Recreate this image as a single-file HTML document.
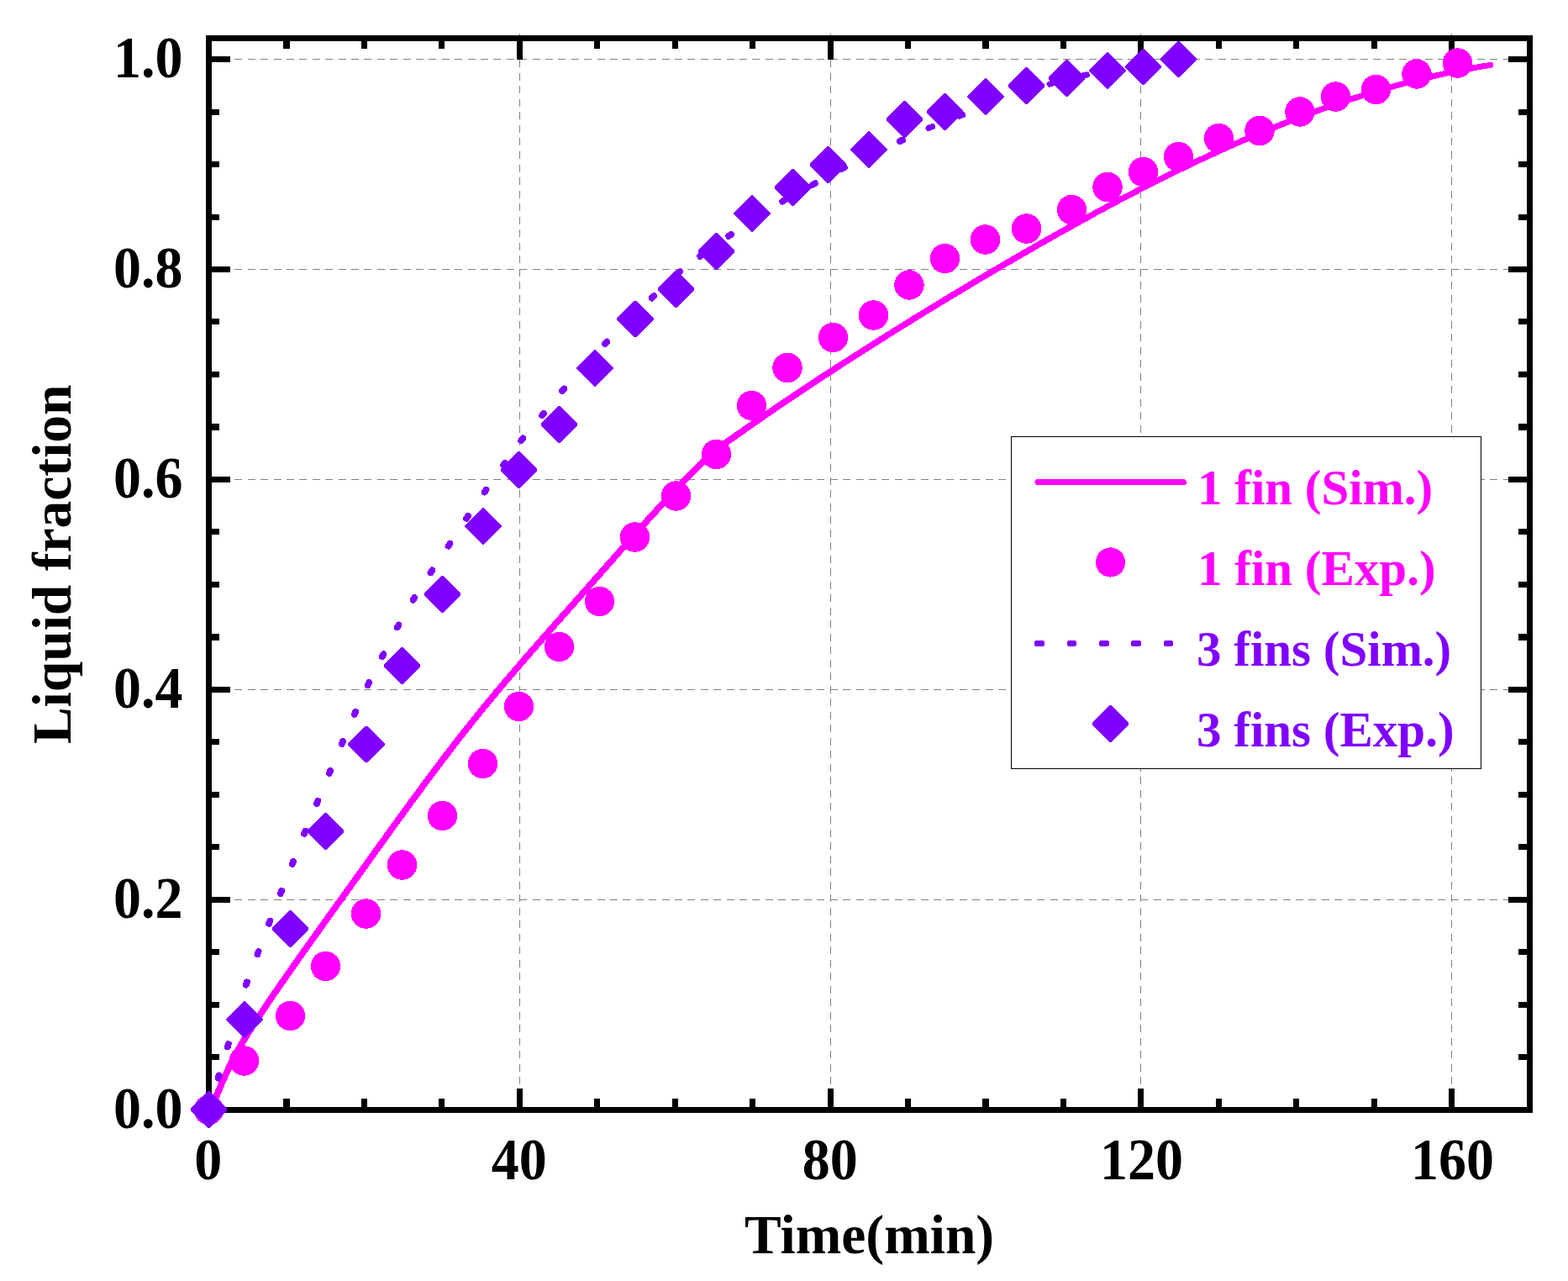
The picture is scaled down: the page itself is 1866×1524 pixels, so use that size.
<!DOCTYPE html>
<html lang="en"><head><meta charset="utf-8"><title>Liquid fraction vs. time</title>
<style>html,body{margin:0;padding:0;background:#fff;}body{width:1866px;height:1524px;overflow:hidden;}svg{display:block;}text{font-family:"Liberation Serif",serif;font-weight:bold;}</style></head><body>
<svg width="1866" height="1524" viewBox="0 0 1866 1524" role="img" aria-label="Liquid fraction versus time for 1 fin and 3 fins, simulation and experiment">
<rect x="0" y="0" width="1866" height="1524" fill="#ffffff"/>
<g id="grid" stroke="#808080" stroke-width="1" fill="none" stroke-dasharray="9 6.4" shape-rendering="crispEdges">
<line x1="248.5" y1="1070.5" x2="1817" y2="1070.5"/>
<line x1="248.5" y1="820.5" x2="1817" y2="820.5"/>
<line x1="248.5" y1="570.5" x2="1817" y2="570.5"/>
<line x1="248.5" y1="320.5" x2="1817" y2="320.5"/>
<line x1="248.5" y1="70.5" x2="1817" y2="70.5"/>
<line x1="618.5" y1="40.4" x2="618.5" y2="1320" stroke-dasharray="9 6.51"/>
<line x1="988.5" y1="40.4" x2="988.5" y2="1320" stroke-dasharray="9 6.51"/>
<line x1="1357.5" y1="40.4" x2="1357.5" y2="1320" stroke-dasharray="9 6.51"/>
<line x1="1727.5" y1="40.4" x2="1727.5" y2="1320" stroke-dasharray="9 6.51"/>
</g>
<g id="axes" fill="#000" shape-rendering="crispEdges">
<rect x="245" y="42" width="1579" height="7"/>
<rect x="245" y="1317" width="1579" height="7"/>
<rect x="245" y="42" width="7" height="1282"/>
<rect x="1817" y="42" width="7" height="1282"/>
<rect x="337" y="49" width="8" height="9"/>
<rect x="337" y="1307" width="8" height="10"/>
<rect x="430" y="49" width="7" height="9"/>
<rect x="430" y="1307" width="7" height="10"/>
<rect x="522" y="49" width="7" height="9"/>
<rect x="522" y="1307" width="7" height="10"/>
<rect x="615" y="49" width="7" height="22"/>
<rect x="615" y="1295" width="7" height="22"/>
<rect x="707" y="49" width="7" height="9"/>
<rect x="707" y="1307" width="7" height="10"/>
<rect x="800" y="49" width="7" height="9"/>
<rect x="800" y="1307" width="7" height="10"/>
<rect x="892" y="49" width="7" height="9"/>
<rect x="892" y="1307" width="7" height="10"/>
<rect x="985" y="49" width="7" height="22"/>
<rect x="985" y="1295" width="7" height="22"/>
<rect x="1077" y="49" width="7" height="9"/>
<rect x="1077" y="1307" width="7" height="10"/>
<rect x="1169" y="49" width="8" height="9"/>
<rect x="1169" y="1307" width="8" height="10"/>
<rect x="1262" y="49" width="7" height="9"/>
<rect x="1262" y="1307" width="7" height="10"/>
<rect x="1354" y="49" width="7" height="22"/>
<rect x="1354" y="1295" width="7" height="22"/>
<rect x="1447" y="49" width="7" height="9"/>
<rect x="1447" y="1307" width="7" height="10"/>
<rect x="1539" y="49" width="7" height="9"/>
<rect x="1539" y="1307" width="7" height="10"/>
<rect x="1632" y="49" width="7" height="9"/>
<rect x="1632" y="1307" width="7" height="10"/>
<rect x="1724" y="49" width="7" height="22"/>
<rect x="1724" y="1295" width="7" height="22"/>
<rect x="252" y="1254" width="9" height="7"/>
<rect x="1807" y="1254" width="10" height="7"/>
<rect x="252" y="1192" width="9" height="7"/>
<rect x="1807" y="1192" width="10" height="7"/>
<rect x="252" y="1129" width="9" height="7"/>
<rect x="1807" y="1129" width="10" height="7"/>
<rect x="252" y="1067" width="22" height="7"/>
<rect x="1795" y="1067" width="22" height="7"/>
<rect x="252" y="1004" width="9" height="7"/>
<rect x="1807" y="1004" width="10" height="7"/>
<rect x="252" y="942" width="9" height="7"/>
<rect x="1807" y="942" width="10" height="7"/>
<rect x="252" y="879" width="9" height="7"/>
<rect x="1807" y="879" width="10" height="7"/>
<rect x="252" y="817" width="22" height="7"/>
<rect x="1795" y="817" width="22" height="7"/>
<rect x="252" y="754" width="9" height="8"/>
<rect x="1807" y="754" width="10" height="8"/>
<rect x="252" y="692" width="9" height="7"/>
<rect x="1807" y="692" width="10" height="7"/>
<rect x="252" y="629" width="9" height="7"/>
<rect x="1807" y="629" width="10" height="7"/>
<rect x="252" y="567" width="22" height="7"/>
<rect x="1795" y="567" width="22" height="7"/>
<rect x="252" y="504" width="9" height="8"/>
<rect x="1807" y="504" width="10" height="8"/>
<rect x="252" y="442" width="9" height="7"/>
<rect x="1807" y="442" width="10" height="7"/>
<rect x="252" y="379" width="9" height="7"/>
<rect x="1807" y="379" width="10" height="7"/>
<rect x="252" y="317" width="22" height="7"/>
<rect x="1795" y="317" width="22" height="7"/>
<rect x="252" y="255" width="9" height="7"/>
<rect x="1807" y="255" width="10" height="7"/>
<rect x="252" y="192" width="9" height="7"/>
<rect x="1807" y="192" width="10" height="7"/>
<rect x="252" y="130" width="9" height="7"/>
<rect x="1807" y="130" width="10" height="7"/>
<rect x="252" y="67" width="22" height="7"/>
<rect x="1795" y="67" width="22" height="7"/>
</g>
<g id="sim1" fill="none" stroke="#ff00ff" stroke-linecap="round" stroke-linejoin="round" shape-rendering="crispEdges">
<polyline stroke-width="7.8" points="251.3,1320.51 253.57,1314.45 255.85,1308.56 258.12,1302.83 260.4,1297.26 262.67,1291.85 264.95,1286.59 267.22,1281.49 269.49,1276.53 271.77,1271.72 274.04,1267.06 276.32,1262.53 278.59,1258.15 280.87,1253.89 283.14,1249.74 285.42,1245.71 287.69,1241.77 289.96,1237.91 292.24,1234.14 294.51,1230.43 296.79,1226.78 299.06,1223.18 301.34,1219.62 303.61,1216.09 305.88,1212.59 308.16,1209.12 310.43,1205.67 312.71,1202.26 314.98,1198.86 317.26,1195.49 319.53,1192.13 321.81,1188.79 324.08,1185.47 326.35,1182.16 328.63,1178.86 330.9,1175.57 333.18,1172.29 335.45,1169.01 337.73,1165.74 340,1162.48 345,1155.33 353.6,1143.09 362.2,1130.94 370.81,1118.84 379.41,1106.8 388.01,1094.79 396.61,1082.82 405.21,1070.85 413.81,1058.9 422.42,1046.93 431.02,1034.95 439.62,1022.97 448.22,1010.99 456.82,999.04 465.42,987.12 474.03,975.23 482.63,963.4 491.23,951.63 499.83,939.94 508.43,928.33 517.03,916.82 525.64,905.41 534.24,894.13 542.84,882.97 551.44,871.95 560.04,861.09 568.64,850.38 577.25,839.82 585.85,829.41 594.45,819.12 603.05,808.94 611.65,798.86 620.25,788.88 628.86,778.98 637.46,769.14 646.06,759.35 654.66,749.61 663.26,739.91 671.86,730.21 680.47,720.53 689.07,710.84 697.67,701.14 706.27,691.41 714.87,681.65 723.47,671.89 732.08,662.14 740.68,652.4 749.28,642.7 757.88,633.05 766.48,623.47 775.08,613.96 783.69,604.56 792.29,595.26 800.89,586.09 809.49,577.08 818.09,568.24 826.69,559.56 835.3,551.07 843.9,542.76 852.5,534.65 862.85,527.39 873.2,520.14 883.55,512.88 893.9,505.63 904.25,498.42 914.6,491.25 924.95,484.14 935.3,477.11 945.64,470.15 955.99,463.26 966.34,456.43 976.69,449.64 987.04,442.9 997.39,436.2"/>
<polyline stroke-width="7.5" points="997.39,436.2 1007.74,429.53 1018.09,422.9 1028.44,416.3 1038.79,409.74 1049.14,403.21 1059.49,396.71 1069.84,390.24 1080.19,383.82 1090.54,377.42 1100.89,371.06 1111.24,364.73 1121.59,358.43 1131.93,352.17 1142.28,345.94 1152.63,339.74 1162.98,333.58 1173.33,327.45 1183.68,321.35 1194.03,315.29 1204.38,309.26 1214.73,303.26 1225.08,297.3 1235.43,291.38 1245.78,285.49 1256.13,279.65 1266.48,273.85 1276.83,268.09 1287.18,262.38 1297.53,256.72"/>
<polyline stroke-width="7.2" points="1297.53,256.72 1307.88,251.1 1318.22,245.54 1328.57,240.04 1338.92,234.59 1349.27,229.19 1359.62,223.86 1369.97,218.58 1380.32,213.37 1390.67,208.23 1401.02,203.15 1411.37,198.13 1421.72,193.19 1432.07,188.32 1442.42,183.52 1452.77,178.8 1463.12,174.15 1473.47,169.58 1483.82,165.09 1494.17,160.68 1504.51,156.35 1514.86,152.11 1525.21,147.95 1535.56,143.87 1545.91,139.89"/>
<polyline stroke-width="7" points="1545.91,139.89 1556.26,136 1566.61,132.19 1576.96,128.48 1587.31,124.87 1597.66,121.35 1608.01,117.93 1618.36,114.61 1628.71,111.38 1639.06,108.26 1649.41,105.24 1659.76,102.33 1670.11,99.52 1680.46,96.81 1690.8,94.21 1701.15,91.72 1711.5,89.34 1721.85,87.06 1732.2,84.9 1742.55,82.85 1752.9,80.92 1763.25,79.1 1773.6,77.39"/>
</g>
<g id="exp1" fill="#ff00ff" shape-rendering="crispEdges">
<circle cx="248.5" cy="1320.5" r="17.75"/>
<circle cx="290.5" cy="1262" r="17.75"/>
<circle cx="345.5" cy="1208.5" r="17.75"/>
<circle cx="387.5" cy="1149.5" r="17.75"/>
<circle cx="435.5" cy="1087" r="17.75"/>
<circle cx="478.5" cy="1029" r="17.75"/>
<circle cx="526.5" cy="970.5" r="17.75"/>
<circle cx="574.5" cy="908.5" r="17.75"/>
<circle cx="617.5" cy="840.5" r="17.75"/>
<circle cx="665.5" cy="769.5" r="17.75"/>
<circle cx="713.5" cy="715.5" r="17.75"/>
<circle cx="755.5" cy="639" r="17.75"/>
<circle cx="804.5" cy="590" r="17.75"/>
<circle cx="852.5" cy="540.5" r="17.75"/>
<circle cx="894.5" cy="482.5" r="17.75"/>
<circle cx="937" cy="437.5" r="17.75"/>
<circle cx="991.5" cy="401.5" r="17.75"/>
<circle cx="1039.5" cy="375" r="17.75"/>
<circle cx="1082" cy="339" r="17.75"/>
<circle cx="1124.5" cy="307.5" r="17.75"/>
<circle cx="1172.5" cy="285" r="17.75"/>
<circle cx="1221.5" cy="272" r="17.75"/>
<circle cx="1275.5" cy="249.5" r="17.75"/>
<circle cx="1318" cy="222.5" r="17.75"/>
<circle cx="1360.5" cy="204.5" r="17.75"/>
<circle cx="1402.5" cy="186.5" r="17.75"/>
<circle cx="1450.5" cy="164.5" r="17.75"/>
<circle cx="1499" cy="155.5" r="17.75"/>
<circle cx="1547" cy="133" r="17.75"/>
<circle cx="1589.5" cy="115" r="17.75"/>
<circle cx="1637.5" cy="106.5" r="17.75"/>
<circle cx="1686" cy="88" r="17.75"/>
<circle cx="1734.5" cy="75" r="17.75"/>
</g>
<g id="sim3" fill="#8000ff" shape-rendering="crispEdges">
<rect x="-5.6" y="-3.9" width="11.2" height="7.8" rx="3.8" ry="3.8" transform="translate(260.1,1281.1) rotate(-73.33)"/>
<rect x="-5.6" y="-3.9" width="11.2" height="7.8" rx="3.8" ry="3.8" transform="translate(271.3,1243.7) rotate(-73.36)"/>
<rect x="-5.6" y="-3.9" width="11.2" height="7.8" rx="3.8" ry="3.8" transform="translate(293.3,1170) rotate(-72.02)"/>
<rect x="-5.6" y="-3.9" width="11.2" height="7.8" rx="3.8" ry="3.8" transform="translate(307,1133.7) rotate(-69.35)"/>
<rect x="-5.6" y="-3.9" width="11.2" height="7.8" rx="3.8" ry="3.8" transform="translate(320.7,1097.3) rotate(-69.2)"/>
<rect x="-5.6" y="-3.9" width="11.2" height="7.8" rx="3.8" ry="3.8" transform="translate(334.5,1061.3) rotate(-68.66)"/>
<rect x="-5.6" y="-3.9" width="11.2" height="7.8" rx="3.8" ry="3.8" transform="translate(348.4,1026.4) rotate(-68.34)"/>
<rect x="-5.6" y="-3.9" width="11.2" height="7.8" rx="3.8" ry="3.8" transform="translate(362.7,990.3) rotate(-67.92)"/>
<rect x="-5.6" y="-3.9" width="11.2" height="7.8" rx="3.8" ry="3.8" transform="translate(377.6,954.4) rotate(-67.53)"/>
<rect x="-5.6" y="-3.9" width="11.2" height="7.8" rx="3.8" ry="3.8" transform="translate(392.4,918.5) rotate(-67.16)"/>
<rect x="-5.6" y="-3.9" width="11.2" height="7.8" rx="3.8" ry="3.8" transform="translate(407.5,883.4) rotate(-66.79)"/>
<rect x="-5.6" y="-3.9" width="11.2" height="7.8" rx="3.8" ry="3.8" transform="translate(422.5,848.3) rotate(-66.05)"/>
<rect x="-5.6" y="-3.9" width="11.2" height="7.8" rx="3.8" ry="3.8" transform="translate(438.5,813.6) rotate(-64.24)"/>
<rect x="-5.6" y="-3.9" width="11.2" height="7.8" rx="3.8" ry="3.8" transform="translate(455.6,779.7) rotate(-62.9)"/>
<rect x="-5.6" y="-3.9" width="11.2" height="7.8" rx="3.8" ry="3.8" transform="translate(473.6,745) rotate(-61.26)"/>
<rect x="-5.6" y="-3.9" width="11.2" height="7.8" rx="3.8" ry="3.8" transform="translate(492.5,712.4) rotate(-58.53)"/>
<rect x="-5.6" y="-3.9" width="11.2" height="7.8" rx="3.8" ry="3.8" transform="translate(513.5,679.8) rotate(-56.81)"/>
<rect x="-5.6" y="-3.9" width="11.2" height="7.8" rx="3.8" ry="3.8" transform="translate(534.5,648.2) rotate(-56.52)"/>
<rect x="-5.6" y="-3.9" width="11.2" height="7.8" rx="3.8" ry="3.8" transform="translate(556.1,615.4) rotate(-56.08)"/>
<rect x="-5.6" y="-3.9" width="11.2" height="7.8" rx="3.8" ry="3.8" transform="translate(577.6,584.1) rotate(-55.2)"/>
<rect x="-5.6" y="-3.9" width="11.2" height="7.8" rx="3.8" ry="3.8" transform="translate(600.1,552.1) rotate(-54.58)"/>
<rect x="-5.6" y="-3.9" width="11.2" height="7.8" rx="3.8" ry="3.8" transform="translate(621.2,522.8) rotate(-52.12)"/>
<rect x="-5.6" y="-3.9" width="11.2" height="7.8" rx="3.8" ry="3.8" transform="translate(646,493.1) rotate(-50.35)"/>
<rect x="-5.6" y="-3.9" width="11.2" height="7.8" rx="3.8" ry="3.8" transform="translate(670.1,463.8) rotate(-48.68)"/>
<rect x="-5.6" y="-3.9" width="11.2" height="7.8" rx="3.8" ry="3.8" transform="translate(721,407.8) rotate(-45.92)"/>
<rect x="-5.6" y="-3.9" width="11.2" height="7.8" rx="3.8" ry="3.8" transform="translate(777,353.4) rotate(-43.86)"/>
<rect x="-5.6" y="-3.9" width="11.2" height="7.8" rx="3.8" ry="3.8" transform="translate(807.9,324.3) rotate(-40.67)"/>
<rect x="-5.6" y="-3.9" width="11.2" height="7.8" rx="3.8" ry="3.8" transform="translate(834.5,304) rotate(-36.18)"/>
<rect x="-5.6" y="-3.9" width="11.2" height="7.8" rx="3.8" ry="3.8" transform="translate(868.6,279.9) rotate(-33.68)"/>
<rect x="-5.6" y="-3.9" width="11.2" height="7.8" rx="3.8" ry="3.8" transform="translate(932.5,238.7) rotate(-31.39)"/>
<rect x="-5.6" y="-3.9" width="11.2" height="7.8" rx="3.8" ry="3.8" transform="translate(968.4,219) rotate(-28.53)"/>
<rect x="-5.6" y="-3.9" width="11.2" height="7.8" rx="3.8" ry="3.8" transform="translate(1003.5,200.1) rotate(-26.43)"/>
<rect x="-5.6" y="-3.9" width="11.2" height="7.8" rx="3.8" ry="3.8" transform="translate(1072.4,167.3) rotate(-25.09)"/>
<rect x="-5.9" y="-3.6" width="11.8" height="7.2" rx="3.5" ry="3.5" transform="translate(1107.3,151.5) rotate(-22.84)"/>
<rect x="-5.9" y="-3.6" width="11.8" height="7.2" rx="3.5" ry="3.5" transform="translate(1143.4,137.4) rotate(-19.88)"/>
<rect x="-5.9" y="-3.6" width="11.8" height="7.2" rx="3.5" ry="3.5" transform="translate(1251.4,99.4) rotate(-17.96)"/>
<rect x="-5.9" y="-3.6" width="11.8" height="7.2" rx="3.5" ry="3.5" transform="translate(1290.9,89.6) rotate(-13.93)"/>
</g>
<g id="exp3" fill="#8000ff" shape-rendering="crispEdges">
<polygon points="247.5,1298.1 249.5,1298.1 270.4,1319 270.4,1321 249.5,1341.9 247.5,1341.9 226.6,1321 226.6,1319"/>
<polygon points="290,1191.1 292,1191.1 312.9,1212 312.9,1214 292,1234.9 290,1234.9 269.1,1214 269.1,1212"/>
<polygon points="344.5,1083.1 346.5,1083.1 367.4,1104 367.4,1106 346.5,1126.9 344.5,1126.9 323.6,1106 323.6,1104"/>
<polygon points="386.5,967.1 388.5,967.1 409.4,988 409.4,990 388.5,1010.9 386.5,1010.9 365.6,990 365.6,988"/>
<polygon points="435,863.6 437,863.6 457.9,884.5 457.9,886.5 437,907.4 435,907.4 414.1,886.5 414.1,884.5"/>
<polygon points="477.5,770.1 479.5,770.1 500.4,791 500.4,793 479.5,813.9 477.5,813.9 456.6,793 456.6,791"/>
<polygon points="525.5,685.1 527.5,685.1 548.4,706 548.4,708 527.5,728.9 525.5,728.9 504.6,708 504.6,706"/>
<polygon points="574,604.1 576,604.1 596.9,625 596.9,627 576,647.9 574,647.9 553.1,627 553.1,625"/>
<polygon points="616.5,537.1 618.5,537.1 639.4,558 639.4,560 618.5,580.9 616.5,580.9 595.6,560 595.6,558"/>
<polygon points="664.5,483.1 666.5,483.1 687.4,504 687.4,506 666.5,526.9 664.5,526.9 643.6,506 643.6,504"/>
<polygon points="707,416.1 709,416.1 729.9,437 729.9,439 709,459.9 707,459.9 686.1,439 686.1,437"/>
<polygon points="755,357.6 757,357.6 777.9,378.5 777.9,380.5 757,401.4 755,401.4 734.1,380.5 734.1,378.5"/>
<polygon points="803.5,322.1 805.5,322.1 826.4,343 826.4,345 805.5,365.9 803.5,365.9 782.6,345 782.6,343"/>
<polygon points="851.5,277.1 853.5,277.1 874.4,298 874.4,300 853.5,320.9 851.5,320.9 830.6,300 830.6,298"/>
<polygon points="894,232.1 896,232.1 916.9,253 916.9,255 896,275.9 894,275.9 873.1,255 873.1,253"/>
<polygon points="942.5,201.1 944.5,201.1 965.4,222 965.4,224 944.5,244.9 942.5,244.9 921.6,224 921.6,222"/>
<polygon points="984.5,174.1 986.5,174.1 1007.4,195 1007.4,197 986.5,217.9 984.5,217.9 963.6,197 963.6,195"/>
<polygon points="1033,156.1 1035,156.1 1055.9,177 1055.9,179 1035,199.9 1033,199.9 1012.1,179 1012.1,177"/>
<polygon points="1075.5,120.1 1077.5,120.1 1098.4,141 1098.4,143 1077.5,163.9 1075.5,163.9 1054.6,143 1054.6,141"/>
<polygon points="1123.5,111.1 1125.5,111.1 1146.4,132 1146.4,134 1125.5,154.9 1123.5,154.9 1102.6,134 1102.6,132"/>
<polygon points="1172,93.1 1174,93.1 1194.9,114 1194.9,116 1174,136.9 1172,136.9 1151.1,116 1151.1,114"/>
<polygon points="1220.5,80.1 1222.5,80.1 1243.4,101 1243.4,103 1222.5,123.9 1220.5,123.9 1199.6,103 1199.6,101"/>
<polygon points="1268.5,71.1 1270.5,71.1 1291.4,92 1291.4,94 1270.5,114.9 1268.5,114.9 1247.6,94 1247.6,92"/>
<polygon points="1317,62.1 1319,62.1 1339.9,83 1339.9,85 1319,105.9 1317,105.9 1296.1,85 1296.1,83"/>
<polygon points="1359.5,57.6 1361.5,57.6 1382.4,78.5 1382.4,80.5 1361.5,101.4 1359.5,101.4 1338.6,80.5 1338.6,78.5"/>
<polygon points="1401.5,48.6 1403.5,48.6 1424.4,69.5 1424.4,71.5 1403.5,92.4 1401.5,92.4 1380.6,71.5 1380.6,69.5"/>
</g>
<g id="ticklabels" fill="#000" font-size="66">
<text transform="translate(217.5,1341.7) scale(1,1.064)" text-anchor="end">0.0</text>
<text transform="translate(217.5,1091.7) scale(1,1.064)" text-anchor="end">0.2</text>
<text transform="translate(217.5,841.7) scale(1,1.064)" text-anchor="end">0.4</text>
<text transform="translate(217.5,591.7) scale(1,1.064)" text-anchor="end">0.6</text>
<text transform="translate(217.5,341.7) scale(1,1.064)" text-anchor="end">0.8</text>
<text transform="translate(217.5,91.7) scale(1,1.064)" text-anchor="end">1.0</text>
<text transform="translate(247.7,1402.6) scale(1,1.064)" text-anchor="middle">0</text>
<text transform="translate(617.7,1402.6) scale(1,1.064)" text-anchor="middle">40</text>
<text transform="translate(987.7,1402.6) scale(1,1.064)" text-anchor="middle">80</text>
<text transform="translate(1358.5,1402.6) scale(1,1.064)" text-anchor="middle">120</text>
<text transform="translate(1728.5,1402.6) scale(1,1.064)" text-anchor="middle">160</text>
</g>
<g id="titles" fill="#000" font-size="65.5">
<text x="1034.6" y="1491" text-anchor="middle">Time(min)</text>
<text transform="translate(83.6,671.3) rotate(-90)" text-anchor="middle">Liquid fraction</text>
</g>
<g id="legend" shape-rendering="crispEdges">
<rect x="1203.5" y="519.5" width="559" height="395" fill="#fff" stroke="#000" stroke-width="1" shape-rendering="crispEdges"/>
<line x1="1235" y1="573.5" x2="1408.5" y2="573.5" stroke="#ff00ff" stroke-width="7" stroke-linecap="round"/>
<circle cx="1321.5" cy="669" r="17.6" fill="#ff00ff"/>
<g fill="#8000ff">
<polygon points="1232.5,762 1241.5,762 1243,763.5 1243,767.5 1241.5,769 1232.5,769 1231,767.5 1231,763.5"/>
<polygon points="1271.5,762 1279.5,762 1281,763.5 1281,767.5 1279.5,769 1271.5,769 1270,767.5 1270,763.5"/>
<polygon points="1309.5,762 1318.5,762 1320,763.5 1320,767.5 1318.5,769 1309.5,769 1308,767.5 1308,763.5"/>
<polygon points="1347.5,762 1356.5,762 1358,763.5 1358,767.5 1356.5,769 1347.5,769 1346,767.5 1346,763.5"/>
<polygon points="1386.5,762 1394.5,762 1396,763.5 1396,767.5 1394.5,769 1386.5,769 1385,767.5 1385,763.5"/>
<polygon points="1320.5,839.1 1322.5,839.1 1343.4,860 1343.4,862 1322.5,882.9 1320.5,882.9 1299.6,862 1299.6,860"/>
</g>
<g font-size="59">
<text x="1425" y="600" fill="#ff00ff">1 fin (Sim.)</text>
<text x="1425" y="696" fill="#ff00ff">1 fin (Exp.)</text>
<text x="1424" y="792" fill="#8000ff">3 fins (Sim.)</text>
<text x="1424" y="888" fill="#8000ff">3 fins (Exp.)</text>
</g></g>
</svg></body></html>
